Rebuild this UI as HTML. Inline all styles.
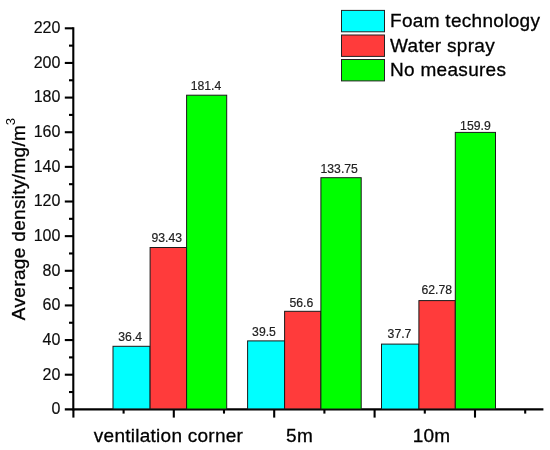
<!DOCTYPE html>
<html><head><meta charset="utf-8"><title>Average density chart</title>
<style>
html,body{margin:0;padding:0;background:#fff;}
body{width:550px;height:450px;overflow:hidden;}
svg{display:block;font-family:"Liberation Sans",sans-serif;}
.ax{stroke:#000;stroke-width:2.1;fill:none;}
.bar{stroke:#1a1a1a;stroke-width:1;}
.yl{font-size:16px;fill:#0c0c0c;stroke:#0c0c0c;stroke-width:0.15;text-anchor:end;}
.xl{font-size:19px;letter-spacing:0.26px;fill:#000;stroke:#000;stroke-width:0.3;}
.dl{font-size:13px;fill:#222;stroke:#222;stroke-width:0.2;text-anchor:middle;}
.lg{font-size:19px;letter-spacing:0.3px;fill:#000;stroke:#000;stroke-width:0.3;}
</style></head><body>
<svg width="550" height="450" viewBox="0 0 550 450">
<rect width="550" height="450" fill="#fff"/>
<path class="ax" d="M73.3 27.26V410.40"/>
<path class="ax" d="M64.8 409.35H543.4"/>
<text class="yl" x="60.4" y="414.2">0</text>
<path class="ax" d="M69 392.03H73.3"/>
<path class="ax" d="M64.8 374.71H73.3"/>
<text class="yl" x="60.4" y="379.5">20</text>
<path class="ax" d="M69 357.39H73.3"/>
<path class="ax" d="M64.8 340.07H73.3"/>
<text class="yl" x="60.4" y="344.9">40</text>
<path class="ax" d="M69 322.75H73.3"/>
<path class="ax" d="M64.8 305.43H73.3"/>
<text class="yl" x="60.4" y="310.2">60</text>
<path class="ax" d="M69 288.11H73.3"/>
<path class="ax" d="M64.8 270.79H73.3"/>
<text class="yl" x="60.4" y="275.6">80</text>
<path class="ax" d="M69 253.47H73.3"/>
<path class="ax" d="M64.8 236.15H73.3"/>
<text class="yl" x="60.4" y="241.0">100</text>
<path class="ax" d="M69 218.83H73.3"/>
<path class="ax" d="M64.8 201.51H73.3"/>
<text class="yl" x="60.4" y="206.3">120</text>
<path class="ax" d="M69 184.19H73.3"/>
<path class="ax" d="M64.8 166.87H73.3"/>
<text class="yl" x="60.4" y="171.7">140</text>
<path class="ax" d="M69 149.55H73.3"/>
<path class="ax" d="M64.8 132.23H73.3"/>
<text class="yl" x="60.4" y="137.0">160</text>
<path class="ax" d="M69 114.91H73.3"/>
<path class="ax" d="M64.8 97.59H73.3"/>
<text class="yl" x="60.4" y="102.4">180</text>
<path class="ax" d="M69 80.27H73.3"/>
<path class="ax" d="M64.8 62.95H73.3"/>
<text class="yl" x="60.4" y="67.8">200</text>
<path class="ax" d="M69 45.63H73.3"/>
<path class="ax" d="M64.8 28.31H73.3"/>
<text class="yl" x="60.4" y="33.1">220</text>
<path class="ax" d="M73.4 409.35V417.6"/>
<path class="ax" d="M123.6 409.35V413.6"/>
<path class="ax" d="M173.8 409.35V417.6"/>
<path class="ax" d="M224.0 409.35V413.6"/>
<path class="ax" d="M274.2 409.35V417.6"/>
<path class="ax" d="M324.4 409.35V413.6"/>
<path class="ax" d="M374.6 409.35V417.6"/>
<path class="ax" d="M424.8 409.35V413.6"/>
<path class="ax" d="M475.0 409.35V417.6"/>
<path class="ax" d="M525.2 409.35V413.6"/>
<rect class="bar" x="113.0" y="346.3" width="37.1" height="62.6" fill="#00ffff"/>
<text class="dl" transform="translate(130.2 340.9) scale(0.94 1)">36.4</text>
<rect class="bar" x="150.1" y="247.5" width="36.5" height="161.4" fill="#ff3b3b"/>
<text class="dl" transform="translate(166.8 241.9) scale(0.94 1)">93.43</text>
<rect class="bar" x="186.6" y="95.2" width="40.1" height="313.8" fill="#00ff00"/>
<text class="dl" transform="translate(206.0 89.8) scale(0.94 1)">181.4</text>
<rect class="bar" x="247.6" y="340.9" width="37.0" height="68.0" fill="#00ffff"/>
<text class="dl" transform="translate(264.0 335.8) scale(0.94 1)">39.5</text>
<rect class="bar" x="284.6" y="311.3" width="36.3" height="97.6" fill="#ff3b3b"/>
<text class="dl" transform="translate(301.4 306.6) scale(0.94 1)">56.6</text>
<rect class="bar" x="320.9" y="177.7" width="40.3" height="231.3" fill="#00ff00"/>
<text class="dl" transform="translate(339.2 172.5) scale(0.94 1)">133.75</text>
<rect class="bar" x="381.5" y="344.1" width="37.4" height="64.9" fill="#00ffff"/>
<text class="dl" transform="translate(399.5 337.7) scale(0.94 1)">37.7</text>
<rect class="bar" x="418.9" y="300.6" width="36.4" height="108.3" fill="#ff3b3b"/>
<text class="dl" transform="translate(436.8 293.8) scale(0.94 1)">62.78</text>
<rect class="bar" x="455.3" y="132.4" width="40.2" height="276.5" fill="#00ff00"/>
<text class="dl" transform="translate(475.4 129.8) scale(0.94 1)">159.9</text>
<text class="xl" x="93.8" y="441.6">ventilation corner</text>
<text class="xl" x="286.1" y="441.6" letter-spacing="0">5m</text>
<text class="xl" x="412.7" y="441.6" letter-spacing="0">10m</text>
<text transform="translate(24.6 320.2) rotate(-90)" font-size="19px" letter-spacing="0.34" fill="#000" stroke="#000" stroke-width="0.3">Average density/mg/m</text>
<text transform="translate(15.2 125.2) rotate(-90)" font-size="13px" fill="#000">3</text>
<rect x="341.5" y="10.4" width="43" height="21.4" fill="#00ffff" stroke="#222" stroke-width="1"/>
<text class="lg" x="390" y="27.1">Foam technology</text>
<rect x="341.5" y="35.0" width="43" height="21.4" fill="#ff3b3b" stroke="#222" stroke-width="1"/>
<text class="lg" x="390" y="51.5">Water spray</text>
<rect x="341.5" y="59.5" width="43" height="21.4" fill="#00ff00" stroke="#222" stroke-width="1"/>
<text class="lg" x="390" y="75.9">No measures</text>
</svg></body></html>
